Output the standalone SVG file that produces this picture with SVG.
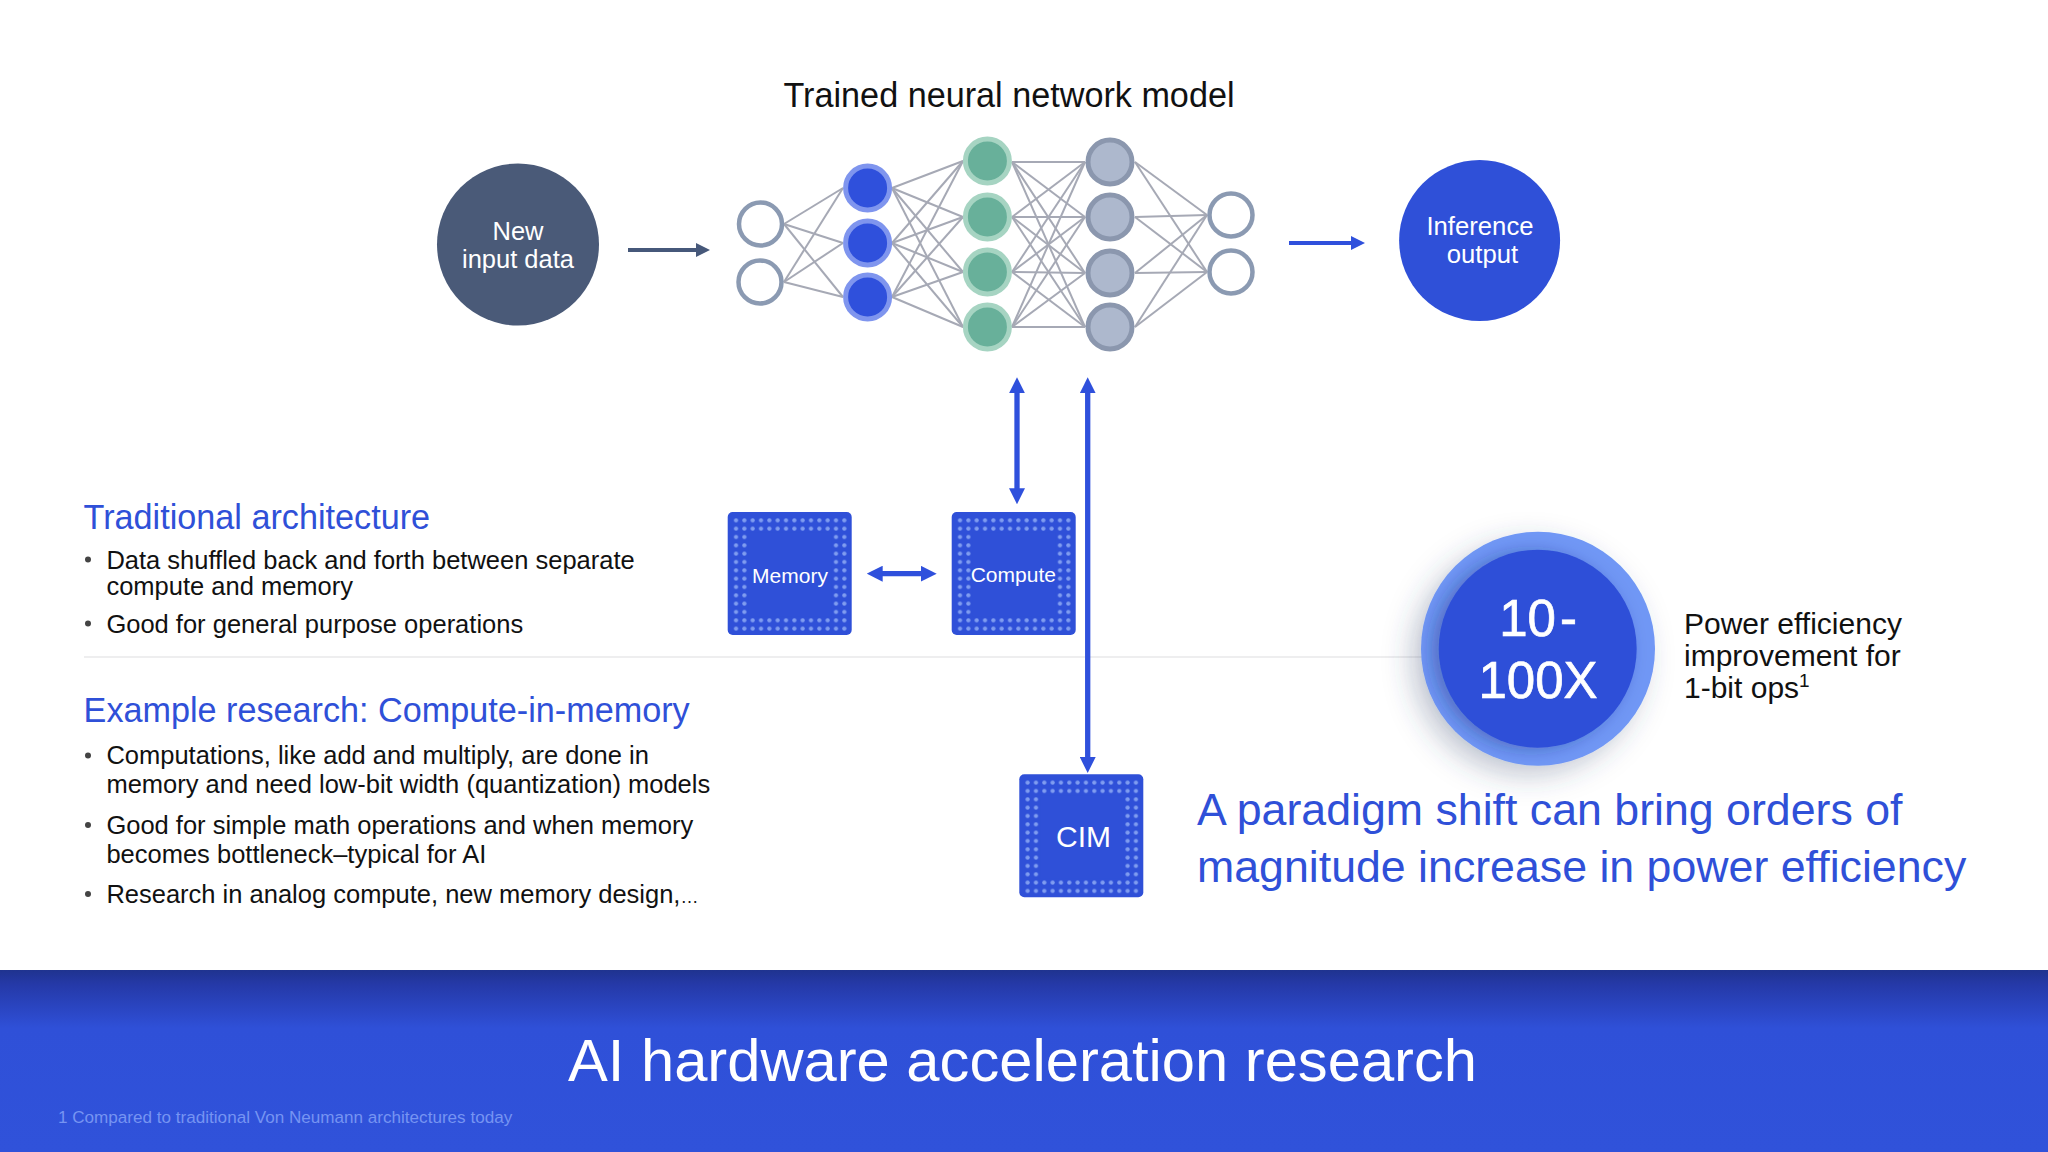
<svg xmlns="http://www.w3.org/2000/svg" width="2048" height="1152" viewBox="0 0 2048 1152">
<style>
text{font-family:"Liberation Sans",Arial,sans-serif}
.body{font-size:25.5px;fill:#111}
.head{font-size:34.2px;fill:#2f50d8}
.big{font-size:44.7px;fill:#2f50d8}
.pw{font-size:30px;fill:#111}
.w{fill:#fff;text-anchor:middle}
.bul{fill:#444}
.e{stroke:#a6a9b5;stroke-width:2}
.ring{fill:#fff;stroke:#8b9ab2;stroke-width:4.5}
.b{fill:#2f50dc;stroke:#7f95ee;stroke-width:5}
.g{fill:#68b09a;stroke:#a6d4c2;stroke-width:5}
.s{fill:#adb8cd;stroke:#8b97ae;stroke-width:5}
.arr{stroke:#2f50dc;stroke-width:5.3;fill:none}
</style>
<defs>
<marker id="hb" markerUnits="userSpaceOnUse" markerWidth="16" markerHeight="16" refX="2" refY="8" orient="auto-start-reverse"><path d="M0 0L16 8L0 16z" fill="#2f50dc"/></marker>
<marker id="hs" markerUnits="userSpaceOnUse" markerWidth="14" markerHeight="14" refX="2" refY="7" orient="auto"><path d="M0 0L14 7L0 14z" fill="#46587a"/></marker>
<marker id="hc" markerUnits="userSpaceOnUse" markerWidth="14" markerHeight="14" refX="2" refY="7" orient="auto"><path d="M0 0L14 7L0 14z" fill="#2f50dc"/></marker>
<pattern id="dots" patternUnits="userSpaceOnUse" x="4.17" y="4.17" width="8.33" height="8.33"><circle cx="4.165" cy="4.165" r="2.1" fill="#7f9cf0"/></pattern>
<linearGradient id="band" x1="0" y1="0" x2="0" y2="1"><stop offset="0" stop-color="#1f338f"/><stop offset="0.08" stop-color="#2539a8"/><stop offset="0.32" stop-color="#2f50d8"/><stop offset="1" stop-color="#3052da"/></linearGradient>
<filter id="sh" x="-40%" y="-40%" width="180%" height="180%"><feDropShadow dx="-10" dy="10" stdDeviation="14" flood-color="#3a4a70" flood-opacity="0.3"/></filter>
<filter id="sh2" x="-30%" y="-30%" width="160%" height="160%"><feDropShadow dx="-7" dy="2" stdDeviation="8" flood-color="#1c2c70" flood-opacity="0.35"/></filter>
<g id="chip"><rect width="124" height="123" rx="5" fill="#2f50d8"/><rect x="4.17" y="4.17" width="116.6" height="116.6" fill="url(#dots)"/><rect x="20.8" y="20.8" width="83.4" height="83.4" fill="#2f50d8"/></g>
</defs>
<rect width="2048" height="1152" fill="#fff"/>
<line x1="84" y1="657" x2="1430" y2="657" stroke="#e8e8ea" stroke-width="1.5"/>
<rect id="band-bar" y="970" width="2048" height="182" fill="url(#band)"/>

<g id="connectors">
<g id="edges">
<line class="e" x1="784" y1="224" x2="843" y2="188"/><line class="e" x1="784" y1="224" x2="843" y2="243"/><line class="e" x1="784" y1="224" x2="843" y2="297"/>
<line class="e" x1="784" y1="282" x2="843" y2="188"/><line class="e" x1="784" y1="282" x2="843" y2="243"/><line class="e" x1="784" y1="282" x2="843" y2="297"/>
<line class="e" x1="892" y1="188" x2="963" y2="161"/><line class="e" x1="892" y1="188" x2="963" y2="217"/><line class="e" x1="892" y1="188" x2="963" y2="272"/><line class="e" x1="892" y1="188" x2="963" y2="327"/>
<line class="e" x1="892" y1="243" x2="963" y2="161"/><line class="e" x1="892" y1="243" x2="963" y2="217"/><line class="e" x1="892" y1="243" x2="963" y2="272"/><line class="e" x1="892" y1="243" x2="963" y2="327"/>
<line class="e" x1="892" y1="297" x2="963" y2="161"/><line class="e" x1="892" y1="297" x2="963" y2="217"/><line class="e" x1="892" y1="297" x2="963" y2="272"/><line class="e" x1="892" y1="297" x2="963" y2="327"/>
<line class="e" x1="1012" y1="162" x2="1085" y2="162"/><line class="e" x1="1012" y1="162" x2="1085" y2="217"/><line class="e" x1="1012" y1="162" x2="1085" y2="273"/><line class="e" x1="1012" y1="162" x2="1085" y2="327"/>
<line class="e" x1="1012" y1="217" x2="1085" y2="162"/><line class="e" x1="1012" y1="217" x2="1085" y2="217"/><line class="e" x1="1012" y1="217" x2="1085" y2="273"/><line class="e" x1="1012" y1="217" x2="1085" y2="327"/>
<line class="e" x1="1012" y1="272" x2="1085" y2="162"/><line class="e" x1="1012" y1="272" x2="1085" y2="217"/><line class="e" x1="1012" y1="272" x2="1085" y2="273"/><line class="e" x1="1012" y1="272" x2="1085" y2="327"/>
<line class="e" x1="1012" y1="327" x2="1085" y2="162"/><line class="e" x1="1012" y1="327" x2="1085" y2="217"/><line class="e" x1="1012" y1="327" x2="1085" y2="273"/><line class="e" x1="1012" y1="327" x2="1085" y2="327"/>
<line class="e" x1="1135" y1="162" x2="1207" y2="215"/><line class="e" x1="1135" y1="162" x2="1207" y2="272"/>
<line class="e" x1="1135" y1="217" x2="1207" y2="215"/><line class="e" x1="1135" y1="217" x2="1207" y2="272"/>
<line class="e" x1="1135" y1="273" x2="1207" y2="215"/><line class="e" x1="1135" y1="273" x2="1207" y2="272"/>
<line class="e" x1="1135" y1="327" x2="1207" y2="215"/><line class="e" x1="1135" y1="327" x2="1207" y2="272"/>
</g>
<line x1="628" y1="250" x2="698" y2="250" stroke="#46587a" stroke-width="4" marker-end="url(#hs)"/>
<line x1="1289" y1="243" x2="1353" y2="243" stroke="#2f50dc" stroke-width="4" marker-end="url(#hc)"/>
<line class="arr" x1="1017" y1="391.3" x2="1017" y2="490.3" marker-start="url(#hb)" marker-end="url(#hb)"/>
<line class="arr" x1="1087.7" y1="391.3" x2="1087.7" y2="759" marker-start="url(#hb)" marker-end="url(#hb)"/>
<line class="arr" x1="880.7" y1="573.7" x2="922.7" y2="573.7" marker-start="url(#hb)" marker-end="url(#hb)"/>
</g>

<g id="input-layer"><circle class="ring" cx="760.5" cy="224" r="21.5"/><circle class="ring" cx="760" cy="282" r="21.5"/></g>
<g id="blue-layer"><circle class="b" cx="867.6" cy="188" r="22"/><circle class="b" cx="867.6" cy="243" r="22"/><circle class="b" cx="867.6" cy="297" r="22"/></g>
<g id="green-layer"><circle class="g" cx="987.4" cy="161" r="22"/><circle class="g" cx="987.4" cy="217" r="22"/><circle class="g" cx="987.4" cy="272" r="22"/><circle class="g" cx="987.4" cy="327" r="22"/></g>
<g id="gray-layer"><circle class="s" cx="1110" cy="162" r="22"/><circle class="s" cx="1110" cy="217" r="22"/><circle class="s" cx="1110" cy="273" r="22"/><circle class="s" cx="1110" cy="327" r="22"/></g>
<g id="output-layer"><circle class="ring" cx="1231" cy="215" r="21.5"/><circle class="ring" cx="1231" cy="272" r="21.5"/></g>

<g id="model-title"><text x="1009" y="107" font-size="34.2" fill="#111" text-anchor="middle">Trained neural network model</text></g>

<g id="input-node"><circle cx="518" cy="244.5" r="81" fill="#4a5a78"/><text class="w" x="518" y="240" font-size="25.5">New</text><text class="w" x="518" y="267.5" font-size="25.5">input data</text></g>
<g id="inference-node"><circle cx="1479.6" cy="240.5" r="80.5" fill="#2f50d8"/><text class="w" x="1480" y="235" font-size="25.7">Inference</text><text class="w" x="1482.5" y="263" font-size="25.7">output</text></g>

<g id="memory-node"><use href="#chip" x="727.7" y="512"/><text class="w" x="790" y="582.7" font-size="21">Memory</text></g>
<g id="compute-node"><use href="#chip" x="951.7" y="512"/><text class="w" x="1013.3" y="581.7" font-size="21">Compute</text></g>
<g id="cim-node"><use href="#chip" x="1019.3" y="774.3"/><text class="w" x="1083.5" y="847" font-size="30">CIM</text></g>

<g id="traditional-text">
<text class="head" x="83.6" y="529">Traditional architecture</text>
<circle class="bul" cx="88" cy="559.5" r="3"/>
<text class="body" x="106.4" y="568.5">Data shuffled back and forth between separate</text>
<text class="body" x="106.4" y="595">compute and memory</text>
<circle class="bul" cx="88" cy="623.5" r="3"/>
<text class="body" x="106.4" y="632.5">Good for general purpose operations</text>
</g>
<g id="example-text">
<text class="head" x="83.6" y="722">Example research: Compute-in-memory</text>
<circle class="bul" cx="88" cy="755.5" r="3"/>
<text class="body" x="106.4" y="764">Computations, like add and multiply, are done in</text>
<text class="body" x="106.4" y="793">memory and need low-bit width (quantization) models</text>
<circle class="bul" cx="88" cy="825" r="3"/>
<text class="body" x="106.4" y="833.5">Good for simple math operations and when memory</text>
<text class="body" x="106.4" y="862.5">becomes bottleneck–typical for AI</text>
<circle class="bul" cx="88" cy="894" r="3"/>
<text class="body" x="106.4" y="902.5">Research in analog compute, new memory design,<tspan font-size="18">…</tspan></text>
</g>

<g id="badge">
<circle cx="1538" cy="648.7" r="117" fill="#7097f5" filter="url(#sh)"/>
<circle cx="1537.7" cy="648.7" r="99" fill="#2f50d8" filter="url(#sh2)"/>
<text class="w" x="1538" y="636" font-size="51" stroke="#fff" stroke-width="0.7">10<tspan dx="4">-</tspan></text>
<text class="w" x="1538" y="698" font-size="51" stroke="#fff" stroke-width="0.7">100X</text>
</g>
<g id="badge-text">
<text class="pw" x="1684" y="634">Power efficiency</text>
<text class="pw" x="1684" y="666">improvement for</text>
<text class="pw" x="1684" y="698">1-bit ops<tspan font-size="19" dy="-11">1</tspan></text>
</g>
<g id="shift-text">
<text class="big" x="1197" y="825">A paradigm shift can bring orders of</text>
<text class="big" x="1197" y="881.6">magnitude increase in power efficiency</text>
</g>
<g id="band-text">
<text class="w" x="1022.5" y="1081" font-size="59.7">AI hardware acceleration research</text>
<text x="58" y="1122.7" font-size="17.1" fill="#7694f2">1 Compared to traditional Von Neumann architectures today</text>
</g>
</svg>
